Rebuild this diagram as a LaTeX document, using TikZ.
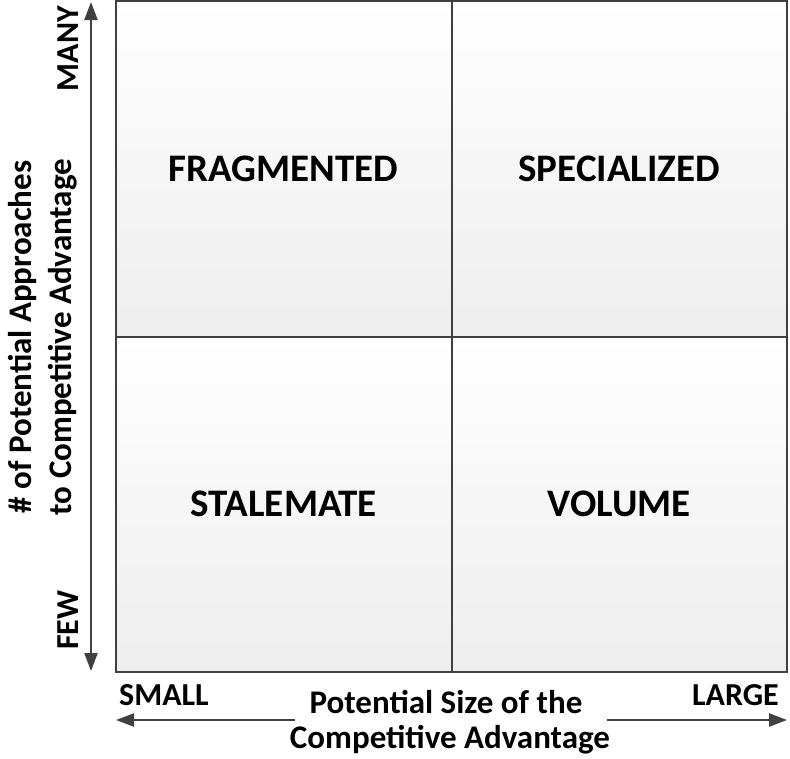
\documentclass[tikz,border=0pt]{standalone}
\usepackage{fontspec}
\setmainfont{Carlito}
\usepackage[svgnames, dvipsnames]{xcolor}
\usetikzlibrary{calc, arrows.meta}

\definecolor{AxisGray}{HTML}{404040}
\definecolor{QuadBottom}{HTML}{EEEEEE}

\begin{document}
\begin{tikzpicture}[x=1pt, y=-1pt,
    quad/.style={draw=AxisGray, line width=2pt, top color=white, bottom color=QuadBottom,
        minimum width=335.5pt, minimum height=335.5pt, inner sep=0pt, outer sep=0pt,
        font=\fontsize{39}{44}\selectfont\bfseries},
    axis/.style={AxisGray, line width=2.2pt, -{Triangle[length=18pt, width=13pt]}},
    tick/.style={inner sep=0pt, font=\fontsize{32}{36}\selectfont\bfseries},
    title/.style={inner sep=0pt, font=\fontsize{33}{38}\selectfont\bfseries}]
    \useasboundingbox (0,0) rectangle (790,758);
    % the four quadrants
    \node[quad] (FR) at (283.75,168.75) {FRAGMENTED};
    \node[quad] (SP) at (619.25,168.75) {SPECIALIZED};
    \node[quad] (ST) at (283.75,504.25) {STALEMATE};
    \node[quad] (VO) at (619.25,504.25) {VOLUME};
    % vertical axis
    \coordinate (yTop) at (91,2);
    \coordinate (yBot) at (91,671);
    \draw[axis, {Triangle[length=18pt, width=13pt]}-{Triangle[length=18pt, width=13pt]}] (yBot) -- (yTop);
    \node[tick, rotate=90, anchor=base east] (many) at (78,6) {MANY};
    \node[tick, rotate=90, anchor=base west] (few) at (78,650) {FEW};
    \node[title, rotate=90, anchor=base] (yT1) at (31,337) {\# of Potential Approaches};
    \node[title, rotate=90, anchor=base] (yT2) at (71,337) {to Competitive Advantage};
    % horizontal axis
    \coordinate (xLeft) at (116,720);
    \coordinate (xGapL) at (295,720);
    \coordinate (xGapR) at (607,720);
    \coordinate (xRight) at (787,720);
    \draw[axis] (xGapL) -- (xLeft);
    \draw[axis] (xGapR) -- (xRight);
    \node[tick, anchor=base west] (small) at (119,705) {SMALL};
    \node[tick, anchor=base east] (large) at (779,705) {LARGE};
    \node[title, anchor=base] (xT1) at (446,713) {Potential Size of the};
    \node[title, anchor=base] (xT2) at (450,748) {Competitive Advantage};
\end{tikzpicture}
\end{document}
